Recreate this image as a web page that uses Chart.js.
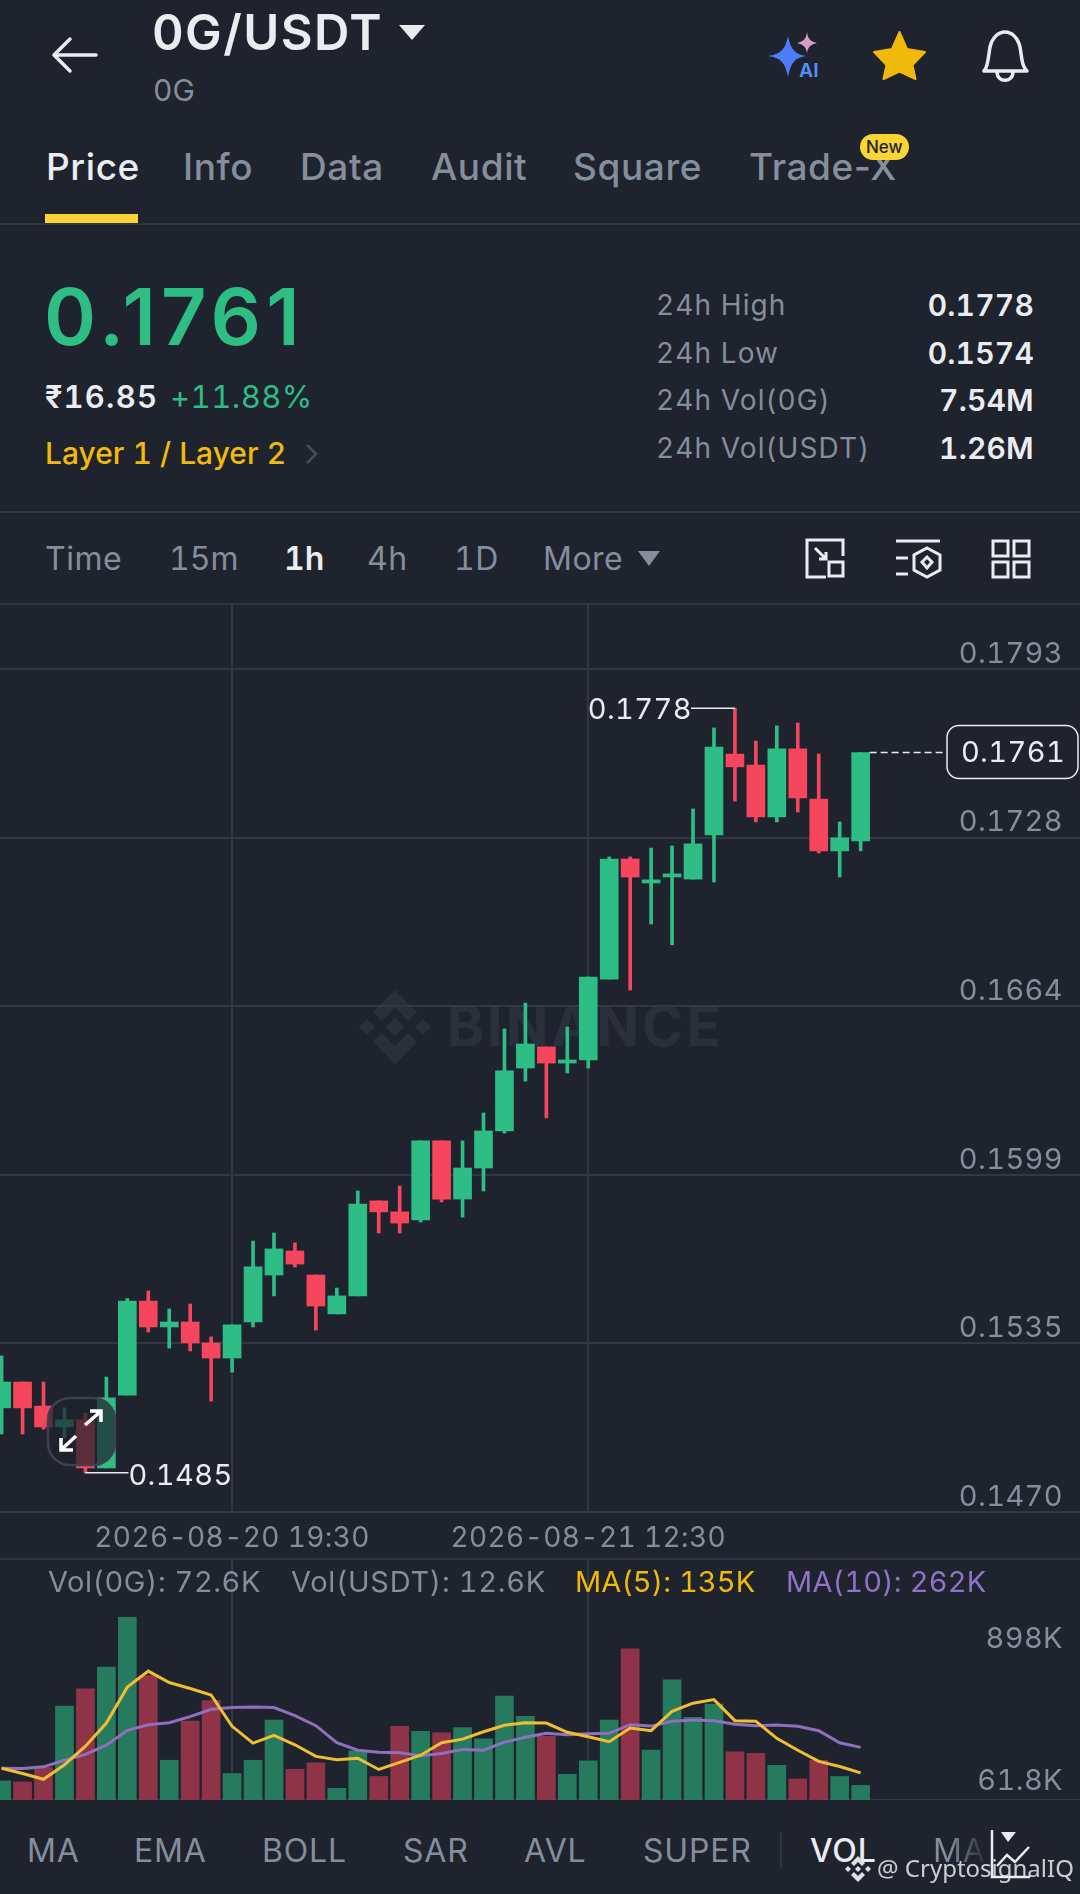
<!DOCTYPE html>
<html><head><meta charset="utf-8">
<script src="https://cdn.jsdelivr.net/npm/chart.js@4"></script>
<style>
html,body{margin:0;padding:0;background:#1E232D;}
body{position:relative;width:1080px;height:1894px;overflow:hidden;font-family:Inter,sans-serif;color:#848E9C;font-variant-numeric:tabular-nums;}
.t{position:absolute;white-space:nowrap;transform:translateY(-50%);line-height:1.1;}
.r{position:absolute;}
canvas{position:absolute;left:0;display:block;}
svg{position:absolute;left:0;top:0;overflow:visible;}
.tab{font-size:37px;font-weight:500;letter-spacing:.6px;top:167px;font-variant-numeric:normal;}
.stat{font-size:28px;letter-spacing:1.1px;left:656px;}
.val{font-size:30px;font-weight:600;letter-spacing:.2px;right:46px;color:#EAECEF;}
.int{font-size:32px;top:559px;letter-spacing:.5px;}
.ind{font-size:32px;top:1851px;letter-spacing:.8px;}
.leg{font-size:29px;top:1582px;z-index:3;}
</style></head><body>

<div class="t" style="left:152px;top:33px;font-size:49px;font-weight:600;letter-spacing:1.4px;color:#EAECEF;">0G/USDT</div>
<div class="t" style="left:153px;top:90px;font-size:30px;">0G</div>

<div class="t tab" style="left:46px;color:#EAECEF;">Price</div>
<div class="t tab" style="left:183px;">Info</div>
<div class="t tab" style="left:300px;">Data</div>
<div class="t tab" style="left:431px;">Audit</div>
<div class="t tab" style="left:573px;">Square</div>
<div class="t tab" style="left:749px;">Trade-X</div>
<div class="r" style="left:860px;top:134px;width:49px;height:26px;border-radius:13px;background:#FCD535;"></div>
<div class="t" style="left:866px;top:147px;font-size:17px;font-weight:500;color:#1E2329;">New</div>
<div class="r" style="left:45px;top:214px;width:93px;height:9px;background:#FCD535;"></div>
<div class="r" style="left:0;top:223px;width:1080px;height:2px;background:#2F3540;"></div>

<div class="t" style="left:44px;top:316px;font-size:79px;font-weight:600;letter-spacing:5.2px;font-variant-numeric:normal;color:#2EBD85;">0.1761</div>
<div class="t" style="left:45px;top:397px;font-size:31px;font-weight:600;letter-spacing:1.2px;color:#EAECEF;">₹16.85</div>
<div class="t" style="left:170px;top:397px;font-size:31px;letter-spacing:.5px;color:#2EBD85;">+11.88%</div>
<div class="t" style="left:45px;top:453px;font-size:30px;font-weight:500;color:#F0B90B;">Layer 1 / Layer 2</div>

<div class="t stat" style="top:305px;">24h High</div>
<div class="t stat" style="top:353px;">24h Low</div>
<div class="t stat" style="top:400px;">24h Vol(0G)</div>
<div class="t stat" style="top:448px;">24h Vol(USDT)</div>
<div class="t val" style="top:305px;">0.1778</div>
<div class="t val" style="top:353px;">0.1574</div>
<div class="t val" style="top:400px;">7.54M</div>
<div class="t val" style="top:448px;">1.26M</div>
<div class="r" style="left:0;top:511px;width:1080px;height:2px;background:#2F3540;"></div>

<div class="t int" style="left:45px;">Time</div>
<div class="t int" style="left:169px;letter-spacing:0;">15m</div>
<div class="t int" style="left:284px;font-weight:600;letter-spacing:0;color:#EAECEF;">1h</div>
<div class="t int" style="left:367px;">4h</div>
<div class="t int" style="left:454px;">1D</div>
<div class="t int" style="left:543px;">More</div>
<div class="r" style="left:0;top:603px;width:1080px;height:2px;background:#2F3540;"></div>

<div class="t" style="left:447px;top:1027px;font-size:56px;font-weight:700;letter-spacing:3px;color:#2A303B;">BINANCE</div>

<svg width="1080" height="1894" style="z-index:0">
  <g fill="#2A303B" transform="translate(395 1027)">
    <path d="M0 -37 L22 -15 L13 -6 L0 -19 L-13 -6 L-22 -15Z"/>
    <path d="M0 37 L22 15 L13 6 L0 19 L-13 6 L-22 15Z"/>
    <path d="M-36 0 L-28 -8 L-20 0 L-28 8Z"/><path d="M36 0 L28 -8 L20 0 L28 8Z"/>
    <path d="M0 -9 L9 0 L0 9 L-9 0Z"/>
  </g>
</svg>

<canvas id="priceChart" width="1080" height="955" style="top:604px;z-index:1"></canvas>
<div class="r" style="left:0;top:1558px;width:1080px;height:2px;background:#2F3540;z-index:1"></div>

<div class="t leg" style="left:48px;letter-spacing:.55px;">Vol(0G): 72.6K</div>
<div class="t leg" style="left:291px;letter-spacing:.7px;">Vol(USDT): 12.6K</div>
<div class="t leg" style="left:575px;letter-spacing:.1px;color:#F0B90B;">MA(5): 135K</div>
<div class="t leg" style="left:786px;letter-spacing:.2px;color:#9072C6;">MA(10): 262K</div>

<canvas id="volChart" width="1080" height="241" style="top:1559px;z-index:1"></canvas>

<div class="t ind" style="left:27px;">MA</div>
<div class="t ind" style="left:134px;">EMA</div>
<div class="t ind" style="left:262px;">BOLL</div>
<div class="t ind" style="left:403px;">SAR</div>
<div class="t ind" style="left:524px;">AVL</div>
<div class="t ind" style="left:643px;">SUPER</div>
<div class="r" style="left:780px;top:1832px;width:2px;height:36px;background:#2F3540;"></div>
<div class="t ind" style="left:810px;font-weight:500;color:#EAECEF;">VOL</div>
<div class="t ind" style="left:933px;background:linear-gradient(90deg,#848E9C 30%,rgba(132,142,156,.1) 100%);-webkit-background-clip:text;color:transparent;width:52px;overflow:hidden;">MACD</div>

<svg width="1080" height="1894" style="z-index:4">
  <path d="M96 55H54M70 39L54 55L70 71" fill="none" stroke="#EAECEF" stroke-width="3.5" stroke-linecap="round" stroke-linejoin="round"/>
  <path d="M399 25H425L412 40Z" fill="#EAECEF"/>
  <path d="M788 36C791 50 795 54 806 56C795 58 791 62 788 77C785 62 781 58 768 56C781 54 785 50 788 36Z" fill="#4F7DF9"/>
  <path d="M807 32C808 39 810 41 817 43C810 45 808 47 807 53C806 47 804 45 797 43C804 41 806 39 807 32Z" fill="#D79BC8"/>
  <text x="799" y="77" font-family="Inter" font-weight="700" font-size="19" fill="#4F8DF9">AI</text>
  <path d="M899.5 32L907 49L925 52L912.5 65L915.5 79L899.5 71.5L883.5 79L886.5 65L874 52L892 49Z" fill="#F0B90B" stroke="#F0B90B" stroke-width="2" stroke-linejoin="round"/>
  <path d="M984 71H1027C1025 69 1023 66 1022 60L1020 47C1018 38 1012 32 1005 32C998 32 992 38 990 47L988 60C987 66 986 69 984 71Z M997 72C997 83 1013 83 1013 72" fill="none" stroke="#EAECEF" stroke-width="3.5" stroke-linejoin="round"/>
  <path d="M307 445L316 454L307 463" fill="none" stroke="#474D57" stroke-width="2.5"/>
  <path d="M638 551H660L649 566Z" fill="#848E9C"/>
  <g fill="none" stroke="#EAECEF" stroke-width="3">
    <path d="M826 540H807V577H826M826 540H843V556"/><rect x="829" y="562" width="14" height="14"/>
    <path d="M815 548L826 559M826 552V559H819"/>
    <path d="M896 541H940M896 558H908M896 574H908"/><path d="M927 548L940 555V570L927 577L914 570V555Z"/><path d="M927 557L932 562L927 568L922 562Z"/>
    <rect x="993" y="541" width="15" height="15"/><rect x="1014" y="541" width="15" height="15"/><rect x="993" y="562" width="15" height="15"/><rect x="1014" y="562" width="15" height="15"/>
  </g>
  <rect x="48" y="1398" width="67" height="67" rx="22" fill="rgba(30,35,45,.72)" stroke="#3C424D" stroke-width="2.5"/>
  <g fill="none" stroke="#fff" stroke-width="3.5">
    <path d="M85 1425L100 1412M90 1411H101V1422"/>
    <path d="M76 1436L62 1449M61 1438V1450H73"/>
  </g>
  <g fill="none" stroke="#EAECEF" stroke-width="2.5">
    <path d="M992 1830V1877H1030"/><path d="M997 1866L1007 1855L1015 1862L1029 1847"/>
  </g>
  <path d="M1001 1832H1016L1008 1842Z" fill="#EAECEF"/>
  <g fill="#DDE0E5" transform="translate(858 1869)">
    <path d="M0 -13L7 -6L4 -3L0 -7L-4 -3L-7 -6Z"/><path d="M0 13L7 6L4 3L0 7L-4 3L-7 6Z"/>
    <path d="M-13 0L-10 -3L-7 0L-10 3Z"/><path d="M13 0L10 -3L7 0L10 3Z"/><path d="M0 -3L3 0L0 3L-3 0Z"/>
  </g>
</svg>
<div class="t" style="left:877px;top:1868px;font-family:'Noto Sans';font-size:24px;color:rgba(234,236,239,.85);z-index:5">@ CryptosignalIQ</div>

<script>
// Candles, oldest first, hourly
const opens  = [.15099,.15198,.15106,.15026,.15053,.14869,.15148,.15508,.15409,.15428,.15348,.1529,.15428,.15608,.157,.15608,.15459,.15528,.15892,.1585,.15819,.16122,.15899,.16018,.1616,.16401,.16482,.1642,.16432,.16742,.17202,.1711,.17133,.17125,.17294,.17604,.17562,.17363,.17624,.17432,.17233,.17271];
const highs  = [.15298,.15198,.15198,.15099,.15079,.15217,.15518,.15547,.15478,.15497,.15371,.15417,.15738,.15769,.15731,.15608,.15558,.1593,.15892,.15949,.16122,.16122,.16122,.16229,.16551,.1665,.16482,.16558,.1675,.1721,.1721,.17244,.17252,.17394,.17704,.1778,.17654,.17712,.17723,.17604,.17344,.1761];
const lows   = [.14999,.14999,.15018,.14984,.1485,.14869,.15148,.1539,.15328,.15317,.15125,.15236,.15409,.15528,.15639,.15397,.15459,.15528,.15769,.15769,.15811,.15888,.1583,.1593,.16152,.16351,.1621,.16382,.16401,.16742,.167,.16953,.16873,.17125,.17114,.17424,.17344,.17344,.17382,.17225,.17133,.17233];
const closes = [.15198,.15099,.15026,.15053,.14869,.15137,.15508,.15409,.15428,.15348,.1529,.15417,.15639,.15708,.1565,.15489,.15528,.1588,.1585,.15807,.16122,.15899,.16018,.1616,.1639,.16493,.1642,.16432,.1675,.17202,.17133,.17122,.17145,.1726,.17631,.17555,.17363,.17624,.17436,.17233,.17283,.1761];
// Volume in thousands
const volumes = [95,90,162,468,553,662,910,620,198,393,495,132,198,398,153,185,58,245,117,367,342,335,360,305,518,417,317,128,195,398,753,248,598,412,478,240,232,173,105,198,117,72.6];
const ma5  = [158,132,103,175,268,383,562,642,585,555,523,367,283,322,275,217,200,208,152,187,223,285,303,340,372,385,383,337,315,290,358,345,442,482,500,395,392,307,248,192,167,135];
const ma10 = [158,157,165,198,227,273,347,375,385,415,452,460,463,460,420,370,285,248,238,235,220,232,252,248,288,312,332,325,330,332,375,368,392,398,395,377,370,373,367,345,285,262];
const priceTicks = [0.1470,0.15346,0.15992,0.16638,0.17284,0.1793];
const timeTicks = {11:'2026-08-20 19:30',28:'2026-08-21 12:30'};
const volTickTop = 898, volTickBottom = 61.8;
const highMark = 0.1778, lowMark = 0.1485, lastPrice = 0.1761;

const UP='#2EBD85', DOWN='#F6465D', UPV='#267A5E', DOWNV='#8F3448', GRID='#323843', TXT='#848E9C';
const up = closes.map((c,i)=>c>=opens[i]);
const xMin=-0.077, xMax=51.47;
const FONT={family:'Inter',size:29};
const xTicks = s=>{s.ticks=Object.keys(timeTicks).map(v=>({value:+v}));};
const noPad = s=>{s.paddingLeft=s.paddingRight=s.paddingTop=s.paddingBottom=0;};
const noPadY = s=>{noPad(s);s.width=0;};
const spacing={id:'spacing',beforeDraw(chart){chart.ctx.letterSpacing='0.4px';}};

const markers={id:'markers',afterDatasetsDraw(chart){
  const {ctx,scales:{x,y}}=chart;
  ctx.save();
  ctx.font='29px Inter';ctx.textBaseline='middle';ctx.fillStyle='#EAECEF';ctx.strokeStyle='#EAECEF';
  const hi=highs.indexOf(highMark), lo=lows.indexOf(lowMark), last=closes.length-1;
  let yy=y.getPixelForValue(highMark), xx=x.getPixelForValue(hi);
  ctx.lineWidth=1.5;ctx.beginPath();ctx.moveTo(xx,yy);ctx.lineTo(xx-44,yy);ctx.stroke();
  ctx.textAlign='right';ctx.fillText('0.1778',xx-43,yy+2);
  yy=y.getPixelForValue(lowMark);xx=x.getPixelForValue(lo);
  ctx.beginPath();ctx.moveTo(xx,yy);ctx.lineTo(xx+43,yy);ctx.stroke();
  ctx.textAlign='left';ctx.fillText('0.1485',xx+43,yy+3);
  yy=y.getPixelForValue(lastPrice);xx=x.getPixelForValue(last)+9;
  ctx.setLineDash([7,4]);ctx.beginPath();ctx.moveTo(xx,yy);ctx.lineTo(946,yy);ctx.stroke();ctx.setLineDash([]);
  ctx.beginPath();ctx.roundRect(947,yy-27,131,53,12);ctx.fillStyle='#1E232D';ctx.fill();ctx.lineWidth=1.5;ctx.stroke();
  ctx.fillStyle='#EAECEF';ctx.textAlign='center';ctx.fillText('0.1761',1013,yy+1);
  ctx.restore();
}};

new Chart(document.getElementById('priceChart'),{
  type:'bar',
  data:{datasets:[
    {label:'Wick',barThickness:3,grouped:false,order:2,
     data:highs.map((h,i)=>({x:i,y:[lows[i],h]})),
     backgroundColor:up.map(u=>u?UP:DOWN)},
    {label:'Body',barThickness:18,grouped:false,order:1,
     data:opens.map((o,i)=>({x:i,y:[o,closes[i]]})),
     backgroundColor:up.map(u=>u?UP:DOWN)}
  ]},
  plugins:[spacing,markers],
  options:{responsive:false,animation:false,devicePixelRatio:1,
    layout:{padding:0},
    plugins:{legend:{display:false},tooltip:{enabled:false}},
    scales:{
      x:{type:'linear',offset:false,min:xMin,max:xMax,afterBuildTicks:xTicks,afterFit:s=>{noPad(s);s.height=47;},
         grid:{offset:false,color:GRID,lineWidth:2,drawTicks:false},border:{display:false},
         ticks:{color:TXT,font:{family:'Inter',size:28},padding:10,maxRotation:0,autoSkip:false,callback:v=>timeTicks[v]||''}},
      y:{type:'linear',position:'right',min:0.1470,max:0.18179,afterFit:noPadY,
         afterBuildTicks:s=>{s.ticks=priceTicks.map(v=>({value:v}));},
         grid:{color:GRID,lineWidth:2,drawTicks:false},border:{display:false},
         ticks:{mirror:true,padding:-17,labelOffset:-15,color:TXT,font:FONT,callback:v=>v.toFixed(4)}}
    }
  }
});

new Chart(document.getElementById('volChart'),{
  type:'bar',
  data:{datasets:[
    {type:'line',label:'MA(5)',yAxisID:'y',order:1,data:ma5.map((v,i)=>({x:i,y:v})),borderColor:'#F0BE32',borderWidth:3,pointRadius:0,tension:0},
    {type:'line',label:'MA(10)',yAxisID:'y',order:2,data:ma10.map((v,i)=>({x:i,y:v})),borderColor:'#8E70BE',borderWidth:3,pointRadius:0,tension:0},
    {label:'Vol',yAxisID:'y',order:3,barThickness:18,data:volumes.map((v,i)=>({x:i,y:v})),backgroundColor:up.map(u=>u?UPV:DOWNV)}
  ]},
  plugins:[spacing],
  options:{responsive:false,animation:false,devicePixelRatio:1,
    layout:{padding:0},
    plugins:{legend:{display:false},tooltip:{enabled:false}},
    scales:{
      x:{type:'linear',offset:false,min:xMin,max:xMax,afterBuildTicks:xTicks,afterFit:noPad,
         grid:{offset:false,color:GRID,lineWidth:2,drawTicks:false},border:{display:true,color:GRID,width:2},
         ticks:{display:false}},
      y:{type:'linear',position:'right',min:0,max:1200,afterFit:noPadY,
         afterBuildTicks:s=>{s.ticks=[{value:volTickTop}];},
         grid:{display:false},border:{display:false},
         ticks:{mirror:true,padding:-17,labelOffset:20,color:TXT,font:FONT,callback:v=>v+'K'}},
      y2:{type:'linear',position:'right',min:0,max:1200,afterFit:noPadY,
         afterBuildTicks:s=>{s.ticks=[{value:volTickBottom}];},
         grid:{display:false},border:{display:false},
         ticks:{mirror:true,padding:-17,labelOffset:-6,color:TXT,font:FONT,callback:v=>v+'K'}}
    }
  }
});
</script>
</body></html>
